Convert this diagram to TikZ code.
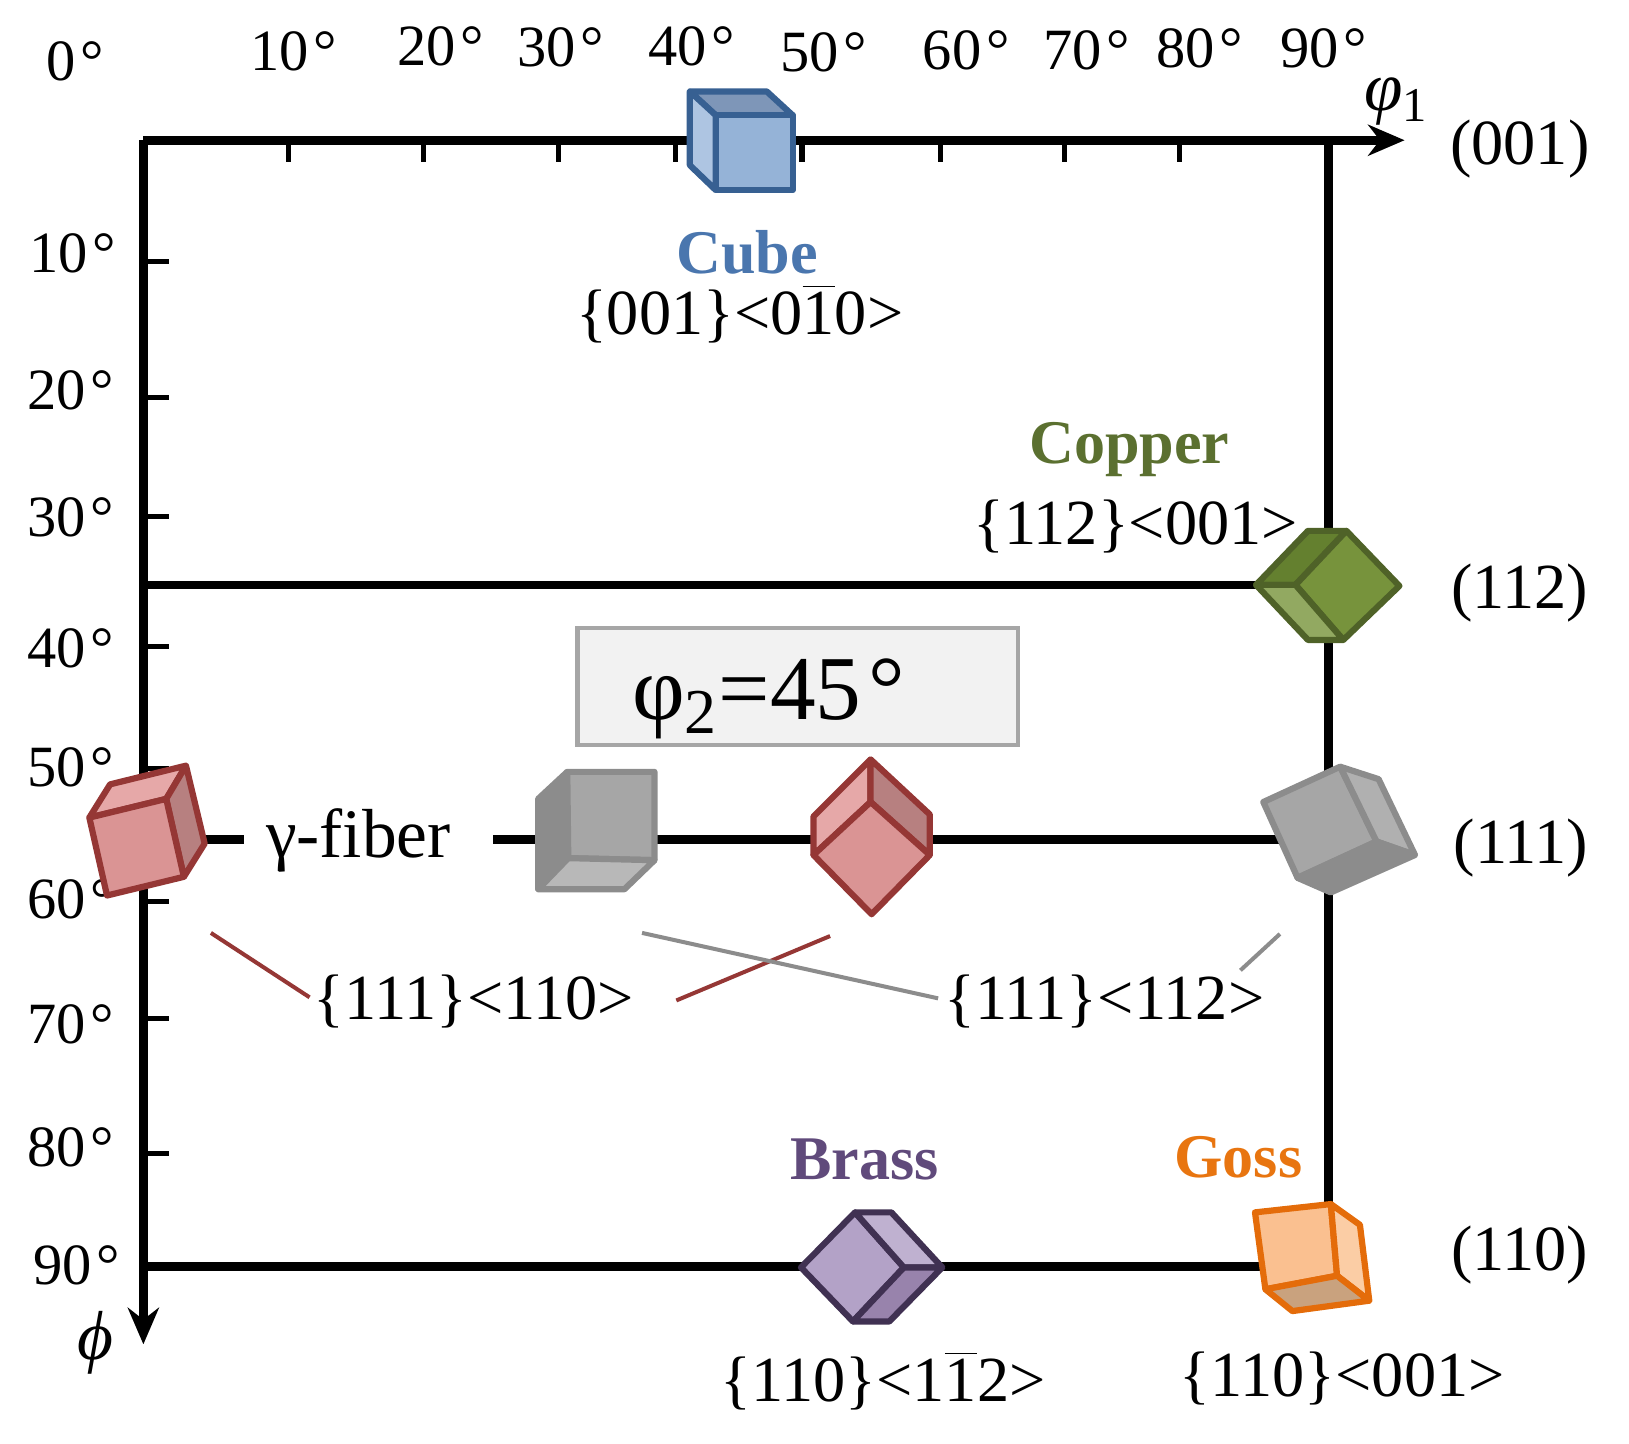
\documentclass[tikz,border=0pt]{standalone}
\usepackage{fontspec}
\setmainfont{Liberation Serif}
\usetikzlibrary{arrows.meta, positioning}
\usepackage{xcolor}
\def\tipsize{length=10pt,width=8.5pt}
\newcommand{\dg}{\kern.08em°}
\newcommand{\barone}{\ensuremath{\overline{\mbox{1}}}}
% three faces of a cube, #1 is the colour prefix
\newcommand{\cubebox}[8]{
    \draw[cube edge,draw=#1L,fill=#1A] (#2) -- (#3) -- (#4) -- (#8) -- cycle;
    \draw[cube edge,draw=#1L,fill=#1B] (#4) -- (#5) -- (#6) -- (#8) -- cycle;
    \draw[cube edge,draw=#1L,fill=#1C] (#6) -- (#7) -- (#2) -- (#8) -- cycle;
}
\definecolor{blueA}{HTML}{7E96B8}\definecolor{blueB}{HTML}{95B3D7}\definecolor{blueC}{HTML}{AEC5E2}\definecolor{blueL}{HTML}{376092}
\definecolor{copA}{HTML}{64802F}\definecolor{copB}{HTML}{77933C}\definecolor{copC}{HTML}{92A961}\definecolor{copL}{HTML}{4F6228}
\definecolor{redA}{HTML}{E6A8A8}\definecolor{redB}{HTML}{B78080}\definecolor{redC}{HTML}{DA9494}\definecolor{redL}{HTML}{953735}
\definecolor{grayA}{HTML}{8C8C8C}\definecolor{grayB}{HTML}{A6A6A6}\definecolor{grayC}{HTML}{B8B8B8}\definecolor{grayL}{HTML}{8C8C8C}
\definecolor{graxA}{HTML}{A6A6A6}\definecolor{graxB}{HTML}{B0B0B0}\definecolor{graxC}{HTML}{8C8C8C}\definecolor{graxL}{HTML}{8C8C8C}
\definecolor{purA}{HTML}{B3A2C7}\definecolor{purB}{HTML}{BFB1D0}\definecolor{purC}{HTML}{9883AC}\definecolor{purL}{HTML}{403152}
\definecolor{gosA}{HTML}{FAC090}\definecolor{gosB}{HTML}{FBCDA5}\definecolor{gosC}{HTML}{C9A27E}\definecolor{gosL}{HTML}{E46C0A}
\definecolor{cubeT}{HTML}{4A76AE}\definecolor{copT}{HTML}{5B7030}\definecolor{purT}{HTML}{604A7B}\definecolor{gosT}{HTML}{E87510}

\begin{document}
\begin{tikzpicture}[x=0.01cm,y=-0.01cm]
    \tikzstyle{axis line}=[line width=2.4pt,draw=black]
    \tikzstyle{tick line}=[line width=1.4pt,draw=black]
    \tikzstyle{cube edge}=[line width=1.7pt,line join=round]
    \tikzstyle{annot}=[inner sep=0pt,font=\fontsize{17.6}{20}\selectfont]
    \tikzstyle{degree}=[inner sep=0pt,font=\fontsize{16}{19}\selectfont]
    \tikzstyle{texture}=[inner sep=0pt,font=\fontsize{17}{20}\selectfont\bfseries]
    \useasboundingbox (0,0) rectangle (1568,1389);

    \coordinate (O) at (138,135);
    \coordinate (TR) at (1279,135);
    \coordinate (X) at (1352,135);
    \coordinate (Y) at (138,1294);
    \coordinate (L-112) at (138,563);
    \coordinate (R-112) at (1279,563);
    \coordinate (L-111) at (138,808);
    \coordinate (G-1) at (235,808);
    \coordinate (G-2) at (475,808);
    \coordinate (R-111) at (1279,808);
    \coordinate (L-110) at (138,1219);
    \coordinate (R-110) at (1279,1219);

    \draw[axis line,-{Stealth[\tipsize]}] (O) -- (X);
    \draw[axis line,-{Stealth[\tipsize]}] (O) -- (Y);
    \draw[axis line] (TR) -- (R-110);
    \draw[axis line] (L-112) -- (R-112);
    \draw[axis line] (L-111) -- (G-1);
    \draw[axis line] (G-2) -- (R-111);
    \draw[axis line] (L-110) -- (R-110);

    \foreach \x in {278,408,538,650,772,905,1025,1135}
        \draw[tick line] (\x,135) -- (\x,156);
    \foreach \y in {252,383,497,622,740,868,980,1110}
        \draw[tick line] (138,\y) -- (163,\y);

    \foreach \lab/\x/\y in {0/72/59,10/283/49,20/424/45,30/540/46,40/666/45,50/793/50,60/930/48,70/1046/48,80/1155/47,90/1274/47}
        \node[degree] (T-\lab) at (\x,\y) {\lab\dg};
    \foreach \lab/\x/\y in {10/70/244,20/68/376,30/68/498,40/68/624,50/68/739,60/68/866,70/68/986,80/68/1104,90/74/1218}
        \node[degree] (S-\lab) at (\x,\y) {\lab\dg};

    \node[annot,font=\fontsize{19}{22}\selectfont\itshape] (phi1) at (1344,98) {φ\textsubscript{\upshape 1}};
    \node[annot,font=\fontsize{19}{22}\selectfont\itshape] (phi) at (92,1293) {ϕ};

    \node[annot] (P-001) at (1463,143) {(001)};
    \node[annot] (P-112) at (1463,571) {(112)};
    \node[annot] (P-111) at (1464,816) {(111)};
    \node[annot] (P-110) at (1463,1208) {(110)};

    \node[texture,text=cubeT] (cube) at (719,243) {Cube};
    \node[annot] (cube-o) at (712,302) {\{001\}<0\barone0>};
    \node[texture,text=copT] (copper) at (1087,433) {Copper};
    \node[annot] (copper-o) at (1093,507) {\{112\}<001>};
    \node[texture,text=purT] (brass) at (832,1116) {Brass};
    \node[annot] (brass-o) at (850,1329) {\{110\}<1\barone2>};
    \node[texture,text=gosT] (goss) at (1192,1114) {Goss};
    \node[annot] (goss-o) at (1292,1327) {\{110\}<001>};
    \node[annot,font=\fontsize{19}{22}\selectfont] (fiber) at (345,809) {γ-fiber};

    \node[draw=black!35,fill=black!5,line width=1.1pt,minimum width=4.24cm,minimum height=1.12cm] (box) at (768,661) {};
    \node[inner sep=0pt,font=\fontsize{25}{30}\selectfont] (angle) at (740,673) {φ\textsubscript{2}=45\dg};

    \node[annot] (g-110) at (456,964) {\{111\}<110>};
    \node[annot] (g-112) at (1063,964) {\{111\}<112>};

    \coordinate (a-1) at (203,898);
    \coordinate (a-2) at (298,960);
    \coordinate (b-1) at (651,963);
    \coordinate (b-2) at (799,901);
    \coordinate (c-1) at (618,898);
    \coordinate (c-2) at (903,961);
    \coordinate (d-1) at (1194,934);
    \coordinate (d-2) at (1232,899);
    \draw[redL,line width=1.1pt] (a-1) -- (a-2);
    \draw[redL,line width=1.1pt] (b-1) -- (b-2);
    \draw[grayA,line width=1.1pt] (c-1) -- (c-2);
    \draw[grayA,line width=1.1pt] (d-1) -- (d-2);

    \cubebox{blue}{664,88}{738,88}{763,111}{763,183}{689,183}{664,159}{689,111}
    \cubebox{cop}{1209,563}{1259,511}{1296,511}{1347,564}{1293,616}{1259,616}{1247,563}
    \cubebox{red}{86,787}{106,755}{179,737}{197,812}{177,844}{103,862}{160,769}
    \cubebox{gray}{518,856}{518,769}{546,743}{630,743}{630,828}{601,856}{547,826}
    \cubebox{red}{783,823}{783,786}{838,731}{895,784}{895,823}{839,880}{838,772}
    \cubebox{grax}{1249,845}{1216,772}{1290,738}{1327,750}{1362,823}{1281,859}{1325,810}
    \cubebox{pur}{821,1272}{771,1220}{823,1167}{858,1167}{907,1220}{856,1272}{870,1220}
    \cubebox{gos}{1218,1241}{1208,1167}{1281,1159}{1309,1179}{1318,1252}{1244,1262}{1287,1228}
\end{tikzpicture}
\end{document}
